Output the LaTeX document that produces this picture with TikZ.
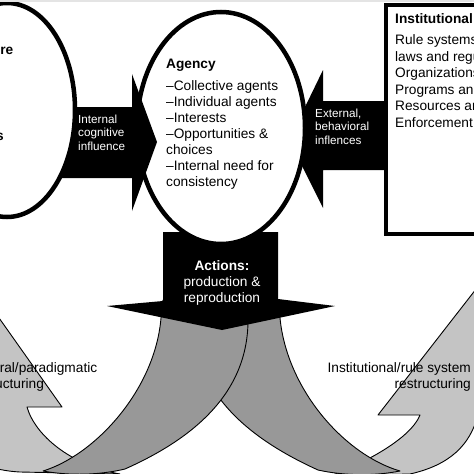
\documentclass[tikz,border=0pt]{standalone}
\usepackage{fontspec}
\setmainfont{Liberation Sans}
\definecolor{darkband}{RGB}{152,152,152}
\definecolor{lightband}{RGB}{196,196,196}
\definecolor{topstrip}{RGB}{228,228,228}
\tikzset{
  band/.style={draw=black, line width=0.9pt, line join=round},
  heavyoutline/.style={draw=black, line width=4.5pt, fill=white},
  blackarrow/.style={fill=black, draw=none},
  maintext/.style={inner sep=0pt, font=\fontsize{13.7}{16}\selectfont},
  arrowtext/.style={inner sep=0pt, text=white, font=\fontsize{11.7}{13.8}\selectfont},
}
\begin{document}
\begin{tikzpicture}[x=1pt,y=-1pt]
\useasboundingbox (0,0) rectangle (474,474);
\fill[white] (0,0) rectangle (474,474);
% light gray restructuring arrows
\path[band, fill=lightband] (27,407) -- (62,407) -- (-49,250) -- (-120,407) -- (-80,407)
  .. controls (-60,450) and (-20,470) .. (20,472) -- (120,474)
  .. controls (70,465) and (35,435) .. (27,407) -- cycle;
\path[band, fill=lightband] (420,415) -- (378,415) -- (522,230) -- (600,415) -- (478,415)
  .. controls (470,445) and (450,465) .. (410,474) -- (330,476)
  .. controls (360,465) and (410,440) .. (420,415) -- cycle;
% dark gray bands from actions
\path[band, fill=darkband] (191,300) -- (193,318) .. controls (193,395) and (252,440) .. (318,470)
  .. controls (345,476) and (375,476) .. (400,471)
  .. controls (345,455) and (287,390) .. (280,318) -- (278,300) -- cycle;
\path[band, fill=darkband] (163,300) -- (161,318) .. controls (155,390) and (95,455) .. (43,471)
  .. controls (70,476) and (100,475) .. (125,469)
  .. controls (190,440) and (249,395) .. (248,318) -- (250,300) -- cycle;
% actions arrow
\path[blackarrow] (163,232) -- (278,232) -- (278,299) -- (335,306) -- (222,330) -- (107,306) -- (163,301) -- cycle;
% institutional box
\node[draw=black, line width=3.5pt, fill=white, minimum width=160pt, minimum height=229pt, anchor=north west, inner sep=0pt] (inst) at (384,3) {};
% external arrow
\path[blackarrow] (384,101) -- (323,101) -- (323,70) -- (289,140) -- (323,208) -- (323,170) -- (384,170) -- cycle;
% agency ellipse
\path[heavyoutline] (221,128) ellipse [x radius=84, y radius=116];
% internal arrow
\path[blackarrow] (40,107) -- (132,107) -- (132,74) -- (157,142) -- (132,211) -- (132,178) -- (40,178) -- cycle;
% left circle
\path[heavyoutline] (7,110) ellipse [x radius=68, y radius=107];
\fill[topstrip] (0,0) rectangle (474,1.5);
% texts (multi-line nodes: base = baseline of last line)
\node[maintext, anchor=base east, font=\fontsize{13.7}{16}\selectfont\bfseries] (cultitle) at (13.5,54) {Structure};
\node[maintext, anchor=base east, font=\fontsize{13.7}{16}\selectfont\bfseries] (cults) at (4,140) {s};
\node[maintext, anchor=base west, font=\fontsize{13.7}{16}\selectfont\bfseries] (agtitle) at (166,68) {Agency};
\node[maintext, anchor=base west, align=left] (aglist) at (166,186.5) {--Collective agents\\--Individual agents\\--Interests\\--Opportunities \&\\choices\\--Internal need for\\consistency};
\node[maintext, anchor=base west, font=\fontsize{13.7}{16}\selectfont\bfseries] (insttitle) at (395,23) {Institutional};
\node[maintext, anchor=base west, align=left, font=\fontsize{13.7}{16.5}\selectfont] (instlist) at (395,127) {Rule systems\\laws and regulations\\Organizations\\Programs and\\Resources and\\Enforcement};
\node[arrowtext, anchor=base west, align=left] (inttext) at (78,150.6) {Internal\\cognitive\\influence};
\node[arrowtext, anchor=base west, align=left] (exttext) at (315,144.6) {External,\\behavioral\\inflences};
\node[maintext, anchor=base, align=center, text=white] (acttext) at (222,302) {\textbf{Actions:}\\production \&\\reproduction};
\node[maintext, anchor=base west, align=left] (culrest) at (-32.4,388) {Cultural/paradigmatic\\restructuring};
\node[maintext, anchor=base east, align=right] (instrest) at (471,388) {Institutional/rule system\\restructuring};
\end{tikzpicture}
\end{document}
